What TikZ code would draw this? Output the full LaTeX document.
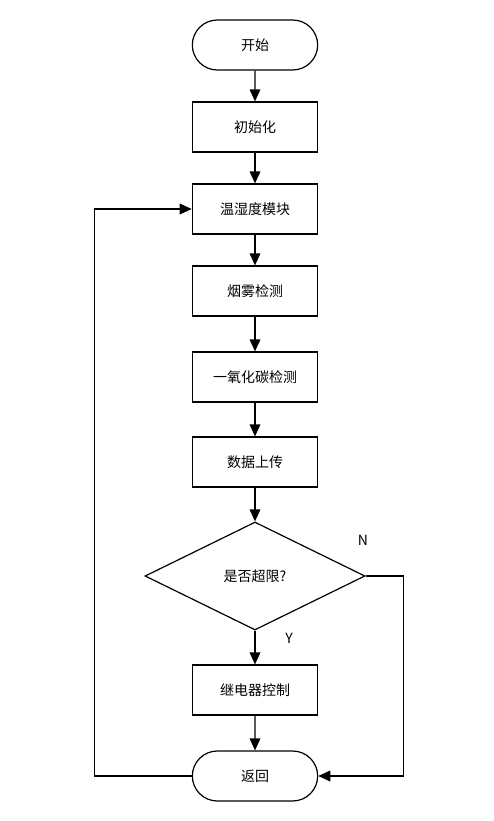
\documentclass[tikz,border=0pt]{standalone}
\usepackage{fontspec}
\setmainfont{Noto Sans CJK SC}
\usepackage{tikz}
\usetikzlibrary{shapes,arrows,positioning,arrows.meta}
\usetikzlibrary{shapes.geometric,shapes.misc}

\begin{document}
\begin{tikzpicture}[x=0.75pt,y=-0.75pt,line width=0.9pt,every node/.style={font=\fontsize{10.5pt}{12pt}\selectfont}]
	\tikzstyle{box_style}=[rectangle, draw, minimum width = 94pt, minimum height = 37.5pt, inner sep = 0pt]
	\tikzstyle{term_style}=[rounded rectangle, draw, minimum width = 94pt, minimum height = 37.5pt, inner sep = 0pt]
	\tikzstyle{decision_style}=[diamond, draw, minimum width = 165pt, minimum height = 81pt, inner sep = 0pt]
	\tikzstyle{arrow_style}=[-{Triangle[length=9pt, width=8pt]}]
	\useasboundingbox (0,0) rectangle (493,821);

	% start
	\node at (255, 45) [term_style] (start) {开始};

	% process steps
	\foreach \y/\n/\t in {127/init/初始化, 209/sensor/温湿度模块, 291/smoke/烟雾检测, 377/co/一氧化碳检测, 462/upload/数据上传}
		\node at (255, \y) [box_style] (\n) {\t};

	% decision
	\node at (255, 576) [decision_style] (check) {是否超限?};
	\node at (363, 540) [] (label_n) {N};
	\node at (289, 638) [] (label_y) {Y};

	% relay
	\node at (255, 690) [box_style] (relay) {继电器控制};

	% return
	\node at (255, 776) [term_style] (back) {返回};

	% connect: steps
	\foreach \a/\b in {start/init, init/sensor, sensor/smoke, smoke/co, co/upload, upload/check, check/relay, relay/back}
		\path[arrow_style] (\a) edge node[] {} (\b);

	% connect: N -> back
	\draw[arrow_style] (check.east) -- ++(38, 0) |- (back.east);

	% connect: back -> sensor
	\draw[arrow_style] (back.west) -- ++(-97, 0) |- (sensor.west);

\end{tikzpicture}
\end{document}
